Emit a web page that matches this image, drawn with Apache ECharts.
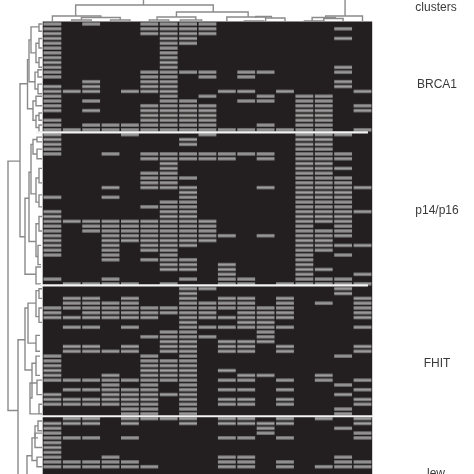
<!DOCTYPE html>
<html>
<head>
<meta charset="utf-8">
<title>clusters</title>
<script src="https://cdn.jsdelivr.net/npm/echarts@6/dist/echarts.min.js"></script>
<style>
html,body{margin:0;padding:0;background:#fff;overflow:hidden}
#container{width:474px;height:474px}
</style>
</head>
<body>
<div id="container"></div>
<script type="text/javascript">
// methylated rows per column (17 columns), row index counted inside each cluster
var brca1Rows = [
  [0,1,2,3,4,5,6,7,8,9,10,11,13,14,15,16,17,18,20,21,22],
  [14,22],
  [0,12,13,14,16,18,21,22],
  [21,22],
  [14,21,22],
  [0,1,2,10,11,12,13,14,17,18,19,20,21,22],
  [0,1,2,3,4,5,6,7,8,9,10,11,12,13,14,15,16,17,18,19,20,21,22],
  [0,1,2,3,4,10,16,17,18,19,20,21,22],
  [0,1,2,10,11,15,17,18,19,20,21,22],
  [14,22],
  [10,11,14,16,22],
  [10,15,16,21,22],
  [14,22],
  [15,16,17,18,19,20,21,22],
  [15,16,17,18,19,20,21,22],
  [1,3,9,10,12,13],
  [14,17,18,22]
];
var p16Rows = [
  [0,1,2,3,4,13,16,17,18,19,20,21,22,23,24,25,30],
  [18,31],
  [18,19,20,31],
  [4,11,13,18,19,20,21,22,23,24,25,26,30,31],
  [0,18,19,20,21,22,31],
  [4,5,8,9,10,11,15,18,19,20,21,22,23,24,26],
  [4,5,6,7,8,9,10,11,14,15,16,17,18,19,20,21,22,23,24,25,26,27,28,31],
  [1,2,4,5,9,11,12,13,14,15,16,17,18,19,20,21,22,23,26,27,28,30],
  [0,4,5,18,19,20,21,22],
  [4,5,21,27,28,29,30,31],
  [4,30,31],
  [4,5,11,21],
  [31],
  [0,1,2,3,4,5,6,7,8,9,10,11,12,13,14,15,16,17,18,19,20,21,22,23,24,25,26,27,28,29,30,31],
  [0,1,2,3,4,5,6,7,8,9,10,11,12,13,14,15,16,17,18,20,21,22,23,24,28,30,31],
  [0,4,5,7,9,10,11,12,13,14,15,16,17,18,19,20,21,23,25,30,31],
  [11,16,23,29,31]
];
var fhitRows = [
  [4,5,6,14,15,16,17,18,19,22,23,24],
  [2,3,4,6,8,12,13,19,21,23,24],
  [2,3,4,5,6,8,12,13,19,21,23,24],
  [3,4,5,6,13,18,19,20,21,22,23,24],
  [2,3,4,5,6,8,12,13,19,21,22,23,24,25,26],
  [4,5,6,10,14,15,16,17,18,19,20,21,22,23,24,25,26],
  [4,5,9,10,11,12,13,15,16,17,18,19,22],
  [0,1,2,3,4,5,6,7,8,9,10,11,12,13,14,15,16,17,18,19,20,21,22,23,24,25,26],
  [0,3,4,5,6,8,10],
  [2,3,4,6,8,11,12,13,17,19,21,23,24],
  [2,3,4,5,6,7,8,11,12,13,18,19,21,23,24],
  [4,5,6,7,8,9,10,11,18],
  [2,3,4,5,6,8,12,13,19,21,23,24],
  [],
  [3,18,19],
  [0,1,14,20,22,25,26],
  [2,3,4,5,6,8,12,13,19,21,23,24]
];
var lastRows = [
  [1,2,3,4,5,6,7,8,9,10],
  [0,1,4,9,10],
  [0,1,4,9,10],
  [8,9,10],
  [0,1,4,9,10],
  [0,10],
  [0],
  [0,1],
  [],
  [0,1,4,8,9,10],
  [0,1,4,8,9,10],
  [1,2,3],
  [0,1,4,9,10],
  [],
  [0,10],
  [2,8,9,10],
  [0,1,3,4,9,10]
];
var clusterSizes = [23, 32, 27, 12];
var clusterRows = [brca1Rows, p16Rows, fhitRows, lastRows];
var clusterNames = ['BRCA1', 'p14/p16', 'FHIT', 'lew'];

// white bars between clusters: [row boundary, first column, last column]
var separators = [
  [22.5, -0.84, 16.28],
  [54.3, -0.64, 16.28],
  [81.5, -0.64, 16.6]
];

// left tree: [distance, row a, row b, child distance a, child distance b]
var leftTree = [
  [8,28.5,80.3,20,18],
  [20,12.4,44.2,27.5,25],
  [27.5,7.4,17.6,29,33],
  [29,3.3,12,31,35],
  [31,0.6,6,39,36],
  [36,4,8,39,39],
  [39,3,5,42,42],[39,7,9,42,42],
  [39,0,1.5,42,42],
  [35,10,13.5,38,38],
  [38,9.5,11,42,42],[38,12.5,14.5,42,42],
  [33,16,20,36,36],
  [36,15,17,42,42],
  [36,19,21.5,39,39],
  [39,18.5,20,42,42],[39,21,22.5,42,42],
  [25,36.2,52,29,36],
  [29,30.8,45.2,31,36],
  [31,25,35.3,33,36],
  [33,24,27,37,37],
  [37,23.5,24.5,42,42],[37,26,28,42,42],
  [36,32,37,39,39],
  [39,30,33,42,42],[39,35.5,38,42,42],
  [36,41.5,48.3,39,38],
  [39,40,43,42,42],
  [38,46,50,41,41],
  [36,50.5,54,41,41],
  [18,65.6,100,25,18],
  [25,59,71.9,28,32],
  [28,58,66.3,36,36],
  [36,55.4,60.8,39,39],
  [39,55,57,42,42],[39,59,62,42,42],
  [36,64.7,68,40,40],
  [32,70.5,77.7,36,30],
  [36,69,73,40,40],
  [30,74.6,81,37,39],
  [37,74,77,42,42],
  [39,79,81,42,42],
  [35,83.5,86,38,38],
  [38,82.5,84.5,42,42],
  [32,86,90.7,35,37],
  [35,85,88,42,42],
  [27,89.7,100,32,32],
  [37,90,92,42,42]
];

// top tree: [height, column a, column b, child height a, child height b]
var topTree = [
  [5,1.2,8.3,16,12],
  [16,0,2.5,21.6,17.5],
  [17.5,1.5,3.5,20,20],
  [20,1,2,21.6,21.6],
  [20,3,4,21.6,21.6],
  [12,6.4,10.1,17,17],
  [17,5.4,7.4,20,20],
  [20,5,6,21.6,21.6],
  [20,6.6,7.7,21.6,21.6],
  [17,9,11,21.6,18],
  [16.5,10.5,11.3,18,18],
  [21,9.9,10.9,21.6,21.6],
  [18,11,12,21.6,21.6],
  [16,14.1,16,18,21.6],
  [17.5,13.4,14.6,21,18.5],
  [21,13,14,21.6,21.6],
  [18.5,14,15,21.6,21.6]
];
var topStems = [
  [0,4.7,5],
  [0,15.1,16]
];

var cellData = [];
var offset = 0;
for (var k = 0; k < clusterRows.length; k++) {
  for (var c = 0; c < 17; c++) {
    for (var r = 0; r < clusterRows[k][c].length; r++) {
      cellData.push([c, offset + clusterRows[k][c][r]]);
    }
  }
  offset += clusterSizes[k];
}

function hiddenAxis(extra) {
  var axis = {type: 'value', show: false};
  for (var key in extra) axis[key] = extra[key];
  return axis;
}

function sideLabel(text, x, y) {
  return {type: 'text', x: x, y: y, style: {text: text, font: '12px "Liberation Sans"', fill: '#3a3a3a', align: 'center', verticalAlign: 'middle'}};
}

var treeStyle = {stroke: '#8a8a8a', fill: null, lineWidth: 1.4};

// the scan is soft: bars are lighter in the middle and fade into the black
var cellFill = new echarts.graphic.LinearGradient(0, 0, 0, 1, [
  {offset: 0, color: '#5e5c5c'},
  {offset: 0.5, color: '#a2a2a2'},
  {offset: 1, color: '#5e5c5c'}
]);

var myChart = echarts.init(document.getElementById('container'));

myChart.setOption({
  animation: false,
  backgroundColor: '#ffffff',
  grid: [
    {left: 42.7, top: 21.6, width: 329.5, height: 455, show: true, backgroundColor: '#231f20', borderWidth: 0},
    {left: 0, top: 21.6, width: 42.7, height: 455},
    {left: 42.7, top: 0, width: 329.5, height: 21.6}
  ],
  xAxis: [
    hiddenAxis({gridIndex: 0, min: -0.5, max: 16.5}),
    hiddenAxis({gridIndex: 1, min: 0, max: 42.7}),
    hiddenAxis({gridIndex: 2, min: -0.5, max: 16.5})
  ],
  yAxis: [
    hiddenAxis({gridIndex: 0, min: -0.5, max: 93.5, inverse: true}),
    hiddenAxis({gridIndex: 1, min: -0.5, max: 93.5, inverse: true}),
    hiddenAxis({gridIndex: 2, min: 0, max: 21.6, inverse: true})
  ],
  graphic: [
    sideLabel('clusters', 436, 8),
    sideLabel(clusterNames[0], 437, 85),
    sideLabel(clusterNames[1], 437, 211),
    sideLabel(clusterNames[2], 437, 364),
    sideLabel(clusterNames[3], 436, 474)
  ],
  series: [
    {
      type: 'custom',
      name: 'cells',
      xAxisIndex: 0,
      yAxisIndex: 0,
      silent: true,
      data: cellData,
      renderItem: function (params, api) {
        var p = api.coord([api.value(0), api.value(1)]);
        var s = api.size([1, 1]);
        var w = s[0] * 0.92;
        var h = s[1] * 0.8;
        return {
          type: 'rect',
          shape: {x: p[0] - w / 2, y: p[1] - h / 2, width: w, height: h},
          style: {fill: cellFill}
        };
      }
    },
    {
      type: 'custom',
      name: 'separators',
      xAxisIndex: 0,
      yAxisIndex: 0,
      silent: true,
      clip: false,
      z: 5,
      data: separators,
      renderItem: function (params, api) {
        var a = api.coord([api.value(1), api.value(0)]);
        var b = api.coord([api.value(2), api.value(0)]);
        return {
          type: 'line',
          shape: {x1: a[0], y1: a[1], x2: b[0], y2: b[1]},
          style: {stroke: '#f4f4f4', lineWidth: 2.2}
        };
      }
    },
    {
      type: 'custom',
      name: 'left tree',
      xAxisIndex: 1,
      yAxisIndex: 1,
      silent: true,
      clip: true,
      data: leftTree,
      renderItem: function (params, api) {
        var x = api.value(0), a = api.value(1), b = api.value(2);
        return {
          type: 'polyline',
          shape: {points: [
            api.coord([api.value(3), a]),
            api.coord([x, a]),
            api.coord([x, b]),
            api.coord([api.value(4), b])
          ]},
          style: treeStyle
        };
      }
    },
    {
      type: 'custom',
      name: 'top tree',
      xAxisIndex: 2,
      yAxisIndex: 2,
      silent: true,
      data: topTree,
      renderItem: function (params, api) {
        var h = api.value(0), a = api.value(1), b = api.value(2);
        return {
          type: 'polyline',
          shape: {points: [
            api.coord([a, api.value(3)]),
            api.coord([a, h]),
            api.coord([b, h]),
            api.coord([b, api.value(4)])
          ]},
          style: treeStyle
        };
      }
    },
    {
      type: 'custom',
      name: 'top stems',
      xAxisIndex: 2,
      yAxisIndex: 2,
      silent: true,
      data: topStems,
      renderItem: function (params, api) {
        var a = api.coord([api.value(1), api.value(0)]);
        var b = api.coord([api.value(1), api.value(2)]);
        return {
          type: 'line',
          shape: {x1: a[0], y1: a[1], x2: b[0], y2: b[1]},
          style: treeStyle
        };
      }
    }
  ]
});
</script>
</body>
</html>
